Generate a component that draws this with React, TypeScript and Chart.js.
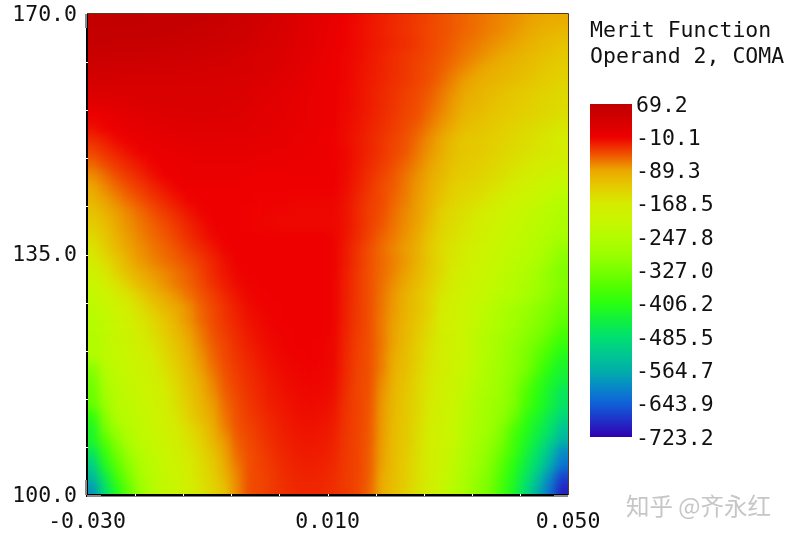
import React, { useEffect, useRef } from "react";
import { Chart, registerables } from "chart.js";

Chart.register(...registerables);

const MONO = '"DejaVu Sans Mono", monospace';
const X_MIN = -0.03;
const X_MAX = 0.05;
const Y_MIN = 100;
const Y_MAX = 170;
const xTicks = [-0.03, -0.022, -0.014, -0.006, 0.002, 0.01, 0.018, 0.026, 0.034, 0.042, 0.05];
const yTicks = [100, 107, 114, 121, 128, 135, 142, 149, 156, 163, 170];
const xLabels = [-0.03, 0.01, 0.05];
const yLabels = [100, 135, 170];
const legendValues = [69.2, -10.1, -89.3, -168.5, -247.8, -327.0, -406.2, -485.5, -564.7, -643.9, -723.2];
const titleLines = ["Merit Function", "Operand 2, COMA"];
const watermark = "知乎 @齐永红";
const colorStops = ["#c00000", "#d40000", "#ee0000", "#f05000", "#eba800", "#e4cc00", "#d4ec00", "#c8f600", "#b4fc00", "#9cff00", "#78ff00", "#50ff00", "#28ff10", "#10f040", "#00e070", "#00c890", "#00b0a8", "#0888c8", "#1060d8", "#2030c8", "#3000b0"];

const field: number[][] = [
[66,65,64,64,63,62,61,61,60,58,55,51,46,41,35,30,24,17,11,4,-3,-10,-15,-20,-25,-30,-34,-39,-44,-49,-54,-59,-64,-69,-74,-79,-84,-89,-92,-94],
[62,62,61,61,60,60,60,58,55,52,49,46,42,37,32,27,22,15,9,2,-5,-11,-16,-21,-26,-31,-35,-40,-45,-49,-54,-60,-65,-71,-76,-82,-89,-95,-101,-107],
[57,57,56,56,55,54,53,51,49,47,44,41,38,34,30,25,20,14,8,1,-6,-11,-15,-20,-24,-29,-33,-38,-45,-50,-57,-64,-70,-76,-82,-88,-96,-104,-111,-118],
[49,48,47,47,46,45,44,42,40,38,36,33,30,27,24,21,17,11,5,-1,-7,-12,-16,-21,-27,-32,-37,-41,-46,-52,-60,-68,-75,-83,-90,-98,-105,-112,-119,-126],
[39,38,38,37,37,36,35,34,33,32,30,29,27,25,23,20,15,10,4,-2,-8,-12,-17,-22,-27,-32,-37,-43,-48,-56,-66,-75,-85,-93,-99,-106,-111,-118,-124,-130],
[28,28,28,27,27,27,26,26,25,25,24,24,23,21,19,15,11,6,1,-4,-8,-12,-18,-23,-28,-33,-38,-43,-49,-60,-73,-85,-93,-99,-105,-111,-118,-124,-130,-136],
[20,19,20,21,22,22,22,22,22,22,22,21,20,18,15,12,8,4,-1,-5,-9,-13,-18,-24,-30,-35,-41,-46,-54,-67,-79,-92,-99,-108,-116,-122,-127,-133,-138,-144],
[6,10,13,15,17,19,20,20,20,20,20,19,17,15,12,9,5,1,-3,-6,-9,-13,-18,-24,-30,-36,-42,-48,-58,-71,-84,-97,-104,-113,-121,-125,-130,-136,-141,-147],
[-9,-4,1,5,9,12,14,16,17,18,17,16,14,12,9,6,3,0,-3,-6,-9,-14,-19,-25,-31,-38,-44,-49,-63,-76,-87,-105,-111,-120,-125,-130,-135,-140,-145,-151],
[-18,-10,-5,0,3,6,9,11,12,12,12,12,10,9,7,5,2,-1,-3,-6,-9,-15,-20,-27,-33,-40,-47,-56,-70,-83,-97,-113,-119,-125,-131,-137,-144,-150,-157,-163],
[-32,-24,-14,-8,-4,-1,2,4,6,7,7,7,6,5,4,2,0,-2,-4,-7,-10,-16,-22,-29,-36,-43,-50,-63,-77,-90,-109,-125,-123,-129,-135,-142,-149,-156,-163,-170],
[-44,-35,-26,-17,-10,-6,-3,0,1,2,2,2,2,1,0,-1,-2,-4,-6,-8,-10,-13,-21,-28,-36,-44,-52,-67,-81,-94,-115,-122,-126,-132,-139,-147,-153,-159,-165,-170],
[-60,-46,-37,-28,-20,-11,-8,-5,-3,-2,-2,-2,-3,-3,-4,-5,-6,-7,-8,-9,-10,-14,-22,-31,-39,-48,-59,-72,-86,-102,-119,-127,-131,-138,-146,-154,-162,-170,-178,-185],
[-78,-64,-48,-38,-29,-19,-10,-8,-6,-5,-5,-6,-6,-7,-8,-8,-9,-9,-9,-9,-9,-15,-24,-34,-43,-53,-66,-79,-92,-108,-125,-131,-136,-144,-153,-163,-174,-185,-196,-207],
[-90,-75,-62,-49,-39,-29,-20,-11,-9,-8,-8,-8,-8,-9,-9,-9,-10,-10,-10,-10,-10,-16,-26,-37,-47,-55,-68,-81,-95,-113,-131,-137,-143,-152,-162,-175,-189,-200,-213,-225],
[-103,-86,-74,-61,-49,-39,-29,-20,-11,-10,-10,-10,-10,-10,-11,-11,-11,-12,-12,-12,-12,-18,-29,-40,-46,-58,-71,-84,-100,-120,-136,-144,-152,-163,-177,-191,-203,-216,-229,-242],
[-118,-100,-84,-73,-61,-49,-39,-30,-20,-11,-10,-10,-10,-11,-11,-12,-12,-13,-13,-13,-13,-19,-30,-41,-48,-62,-75,-85,-105,-132,-144,-154,-165,-180,-193,-207,-218,-230,-242,-257],
[-128,-113,-89,-78,-67,-57,-47,-37,-27,-18,-10,-10,-10,-11,-12,-13,-14,-14,-14,-14,-14,-19,-30,-41,-51,-65,-77,-87,-112,-136,-148,-158,-172,-186,-199,-212,-224,-236,-247,-262],
[-143,-122,-98,-83,-72,-62,-53,-42,-32,-22,-13,-10,-10,-10,-10,-10,-10,-10,-10,-10,-11,-20,-31,-43,-57,-68,-80,-91,-119,-141,-152,-163,-178,-192,-208,-220,-231,-244,-258,-270],
[-158,-130,-108,-87,-77,-68,-59,-50,-39,-30,-21,-11,-10,-10,-10,-10,-10,-10,-10,-10,-11,-22,-36,-49,-62,-74,-85,-97,-125,-147,-160,-172,-189,-203,-216,-226,-238,-249,-273,-296],
[-166,-149,-125,-97,-82,-72,-64,-56,-47,-38,-28,-17,-10,-10,-10,-10,-10,-10,-10,-10,-11,-22,-36,-49,-60,-71,-82,-99,-122,-146,-162,-177,-191,-205,-220,-233,-245,-263,-287,-309],
[-190,-165,-135,-110,-94,-82,-74,-65,-55,-42,-30,-20,-12,-10,-10,-10,-10,-10,-10,-10,-11,-24,-38,-50,-61,-73,-86,-105,-128,-146,-169,-185,-201,-215,-228,-240,-252,-275,-299,-322],
[-205,-180,-157,-132,-106,-93,-78,-68,-58,-46,-34,-24,-15,-11,-10,-10,-10,-10,-10,-10,-11,-25,-38,-49,-63,-77,-92,-110,-129,-154,-174,-190,-205,-219,-234,-248,-266,-283,-300,-318],
[-228,-202,-177,-156,-132,-107,-93,-79,-66,-52,-41,-30,-20,-13,-11,-10,-10,-10,-10,-10,-11,-25,-38,-49,-65,-82,-99,-118,-138,-163,-182,-196,-211,-226,-242,-255,-270,-288,-307,-328],
[-232,-214,-192,-170,-150,-127,-105,-90,-77,-58,-46,-35,-25,-16,-12,-11,-10,-10,-10,-10,-11,-26,-39,-49,-66,-83,-100,-117,-136,-170,-186,-203,-220,-238,-258,-275,-290,-307,-322,-340],
[-246,-228,-206,-182,-159,-142,-120,-97,-79,-61,-47,-36,-27,-19,-14,-11,-10,-10,-10,-10,-11,-26,-39,-49,-68,-85,-102,-120,-141,-171,-187,-203,-224,-246,-263,-279,-296,-312,-330,-355],
[-251,-230,-211,-190,-172,-150,-130,-108,-87,-68,-50,-40,-30,-22,-16,-12,-11,-10,-10,-10,-12,-27,-40,-49,-68,-87,-107,-126,-149,-173,-189,-205,-229,-252,-270,-286,-304,-322,-345,-375],
[-255,-233,-215,-197,-180,-160,-139,-118,-95,-73,-55,-43,-33,-25,-18,-14,-11,-10,-10,-11,-13,-28,-41,-49,-67,-87,-109,-130,-154,-175,-191,-206,-236,-258,-277,-296,-315,-339,-367,-396],
[-258,-232,-218,-203,-186,-168,-146,-125,-102,-80,-59,-45,-36,-28,-21,-16,-12,-11,-10,-11,-13,-29,-42,-49,-70,-93,-113,-133,-157,-176,-193,-210,-236,-258,-279,-300,-322,-353,-385,-417],
[-310,-243,-226,-211,-194,-177,-154,-133,-110,-85,-65,-48,-39,-31,-24,-18,-14,-12,-11,-12,-14,-30,-43,-49,-70,-95,-114,-135,-158,-178,-195,-213,-240,-263,-283,-303,-327,-367,-408,-432],
[-330,-258,-234,-218,-202,-185,-163,-140,-115,-93,-72,-52,-41,-33,-26,-20,-16,-13,-12,-13,-15,-31,-44,-49,-75,-99,-119,-140,-162,-181,-197,-222,-246,-268,-288,-309,-345,-390,-421,-445],
[-340,-275,-241,-224,-208,-191,-173,-147,-122,-99,-78,-56,-44,-35,-28,-22,-18,-15,-13,-14,-17,-33,-44,-50,-79,-102,-121,-142,-164,-183,-200,-228,-254,-273,-289,-318,-366,-403,-436,-470],
[-348,-288,-243,-229,-215,-196,-179,-153,-128,-105,-84,-62,-47,-38,-30,-24,-20,-16,-15,-16,-19,-35,-43,-51,-81,-105,-123,-143,-166,-185,-205,-236,-263,-279,-295,-320,-372,-410,-440,-475],
[-400,-310,-255,-235,-220,-201,-183,-161,-135,-110,-89,-66,-49,-40,-33,-27,-22,-18,-17,-18,-21,-36,-43,-52,-82,-107,-123,-144,-168,-188,-210,-236,-261,-283,-300,-337,-395,-425,-462,-500],
[-425,-327,-282,-242,-226,-208,-189,-170,-147,-127,-96,-72,-51,-43,-36,-29,-24,-20,-19,-20,-24,-37,-43,-53,-83,-108,-124,-148,-171,-191,-214,-243,-268,-287,-315,-367,-408,-443,-476,-533],
[-430,-363,-307,-260,-232,-216,-197,-178,-156,-135,-105,-81,-56,-46,-38,-31,-26,-22,-21,-22,-26,-38,-43,-54,-84,-109,-125,-149,-175,-192,-212,-248,-272,-296,-327,-380,-420,-458,-505,-560],
[-470,-392,-330,-285,-244,-225,-205,-186,-163,-142,-117,-87,-61,-48,-41,-34,-28,-24,-23,-24,-28,-38,-43,-55,-85,-110,-127,-151,-178,-194,-222,-254,-280,-306,-343,-386,-435,-481,-538,-603],
[-515,-416,-355,-305,-256,-234,-212,-193,-170,-150,-128,-93,-67,-49,-42,-36,-30,-26,-25,-26,-30,-39,-43,-56,-86,-110,-130,-152,-174,-198,-228,-260,-288,-315,-357,-406,-451,-501,-565,-625],
[-550,-455,-380,-320,-272,-239,-218,-200,-175,-152,-133,-103,-74,-48,-44,-38,-32,-28,-27,-28,-32,-39,-44,-56,-91,-110,-130,-153,-177,-204,-236,-267,-296,-324,-371,-418,-468,-531,-599,-668],
[-590,-485,-412,-344,-288,-243,-221,-200,-179,-158,-137,-116,-75,-47,-44,-38,-33,-30,-29,-30,-33,-39,-44,-58,-93,-111,-133,-155,-178,-206,-242,-270,-302,-331,-378,-424,-490,-565,-625,-695],
];

const V_MAX = legendValues[0];
const V_MIN = legendValues[legendValues.length - 1];

function hexToRgb(h: string) {
  return [parseInt(h.slice(1, 3), 16), parseInt(h.slice(3, 5), 16), parseInt(h.slice(5, 7), 16)];
}
function colorOf(v: number) {
  const t = Math.min(1, Math.max(0, (V_MAX - v) / (V_MAX - V_MIN))) * (colorStops.length - 1);
  const i = Math.min(colorStops.length - 2, Math.floor(t));
  const a = hexToRgb(colorStops[i]);
  const b = hexToRgb(colorStops[i + 1]);
  const f = t - i;
  return `rgb(${a.map((c, k) => Math.round(c + (b[k] - c) * f)).join(",")})`;
}

const cells = field.flatMap((row, j) =>
  row.map((v, i) => ({
    x: X_MIN + ((i + 0.5) * (X_MAX - X_MIN)) / row.length,
    y: Y_MAX - ((j + 0.5) * (Y_MAX - Y_MIN)) / field.length,
    v,
  }))
);

// The reference surface is finely sampled: soften the cell edges after the library has drawn them.
const smoothPlugin = {
  id: "smooth",
  afterDatasetsDraw(chart: any) {
    const { ctx, chartArea: a, canvas } = chart;
    const p = 20;
    const w = Math.round(a.right - a.left);
    const h = Math.round(a.bottom - a.top);
    const l = Math.round(a.left);
    const t = Math.round(a.top);
    const off = document.createElement("canvas");
    off.width = w + 2 * p;
    off.height = h + 2 * p;
    const o = off.getContext("2d") as CanvasRenderingContext2D;
    o.drawImage(canvas, l, t, 1, h, 0, p, p, h);
    o.drawImage(canvas, l + w - 1, t, 1, h, p + w, p, p, h);
    o.drawImage(canvas, l, t, w, 1, p, 0, w, p);
    o.drawImage(canvas, l, t + h - 1, w, 1, p, p + h, w, p);
    o.drawImage(canvas, l, t, 1, 1, 0, 0, p, p);
    o.drawImage(canvas, l + w - 1, t, 1, 1, p + w, 0, p, p);
    o.drawImage(canvas, l, t + h - 1, 1, 1, 0, p + h, p, p);
    o.drawImage(canvas, l + w - 1, t + h - 1, 1, 1, p + w, p + h, p, p);
    o.drawImage(canvas, l, t, w, h, p, p, w, h);
    ctx.save();
    ctx.beginPath();
    ctx.rect(l, t, w, h);
    ctx.clip();
    ctx.filter = "blur(5px)";
    ctx.drawImage(off, l - p, t - p);
    ctx.restore();
  },
};

const framePlugin = {
  id: "frame",
  afterDatasetsDraw(chart: any) {
    const { ctx, chartArea: a, scales } = chart;
    ctx.save();
    ctx.strokeStyle = "#5a3a20";
    ctx.lineWidth = 1;
    ctx.beginPath();
    ctx.moveTo(a.left, a.top - 0.5);
    ctx.lineTo(a.right + 0.5, a.top - 0.5);
    ctx.lineTo(a.right + 0.5, a.bottom);
    ctx.stroke();
    ctx.fillStyle = "#000";
    ctx.fillRect(a.left - 1, a.top, 2, a.bottom - a.top + 2);
    ctx.fillRect(a.left - 1, a.bottom - 1, a.right - a.left + 1, 2.5);
    ctx.fillStyle = "#8a8a8a";
    ctx.fillRect(a.left - 2, a.top, 2, 14);
    ctx.fillRect(a.left - 2, a.bottom - 15, 2, 15);
    ctx.fillRect(a.left, a.bottom, 14, 2);
    ctx.fillRect(a.right - 14, a.bottom, 14, 2);
    ctx.fillStyle = "#fff";
    scales.y.ticks.forEach((t: any) => {
      const p = Math.round(scales.y.getPixelForValue(t.value));
      if (p > a.top + 2 && p < a.bottom - 2) ctx.fillRect(a.left - 1, p, 2, 1);
    });
    scales.x.ticks.forEach((t: any) => {
      const p = Math.round(scales.x.getPixelForValue(t.value));
      if (p > a.left + 2 && p < a.right - 2) ctx.fillRect(p, a.bottom - 1, 1, 2);
    });
    ctx.restore();
  },
};

export default function App() {
  const mainRef = useRef<HTMLCanvasElement>(null);
  const barRef = useRef<HTMLCanvasElement>(null);

  useEffect(() => {
    const font = { family: MONO, size: 21.5 };
    const main = new Chart(mainRef.current as HTMLCanvasElement, {
      type: "scatter",
      data: {
        datasets: [
          {
            data: cells as any,
            pointStyle: "rect",
            pointRadius: 6.3 * Math.SQRT2,
            pointBorderWidth: 0,
            pointBackgroundColor: (c: any) => colorOf(c.raw ? c.raw.v : 0),
          } as any,
        ],
      },
      options: {
        responsive: false,
        animation: false,
        events: [],
        layout: { padding: { top: 14, right: 225, left: 0, bottom: 0 } },
        plugins: { legend: { display: false }, tooltip: { enabled: false } },
        scales: {
          x: {
            type: "linear",
            min: X_MIN,
            max: X_MAX,
            grid: { display: false, drawTicks: false },
            border: { display: false },
            afterBuildTicks: (s: any) => {
              s.ticks = xTicks.map((value) => ({ value }));
            },
            afterFit: (s: any) => {
              s.height = 44;
              s.paddingLeft = 0;
              s.paddingRight = 0;
            },
            ticks: {
              autoSkip: false,
              maxRotation: 0,
              color: "#111",
              font,
              padding: 15,
              callback: (v: any) =>
                xLabels.some((l) => Math.abs(l - v) < 1e-6) ? Number(v).toFixed(3) : "",
            },
          },
          y: {
            type: "linear",
            min: Y_MIN,
            max: Y_MAX,
            grid: { display: false, drawTicks: false },
            border: { display: false },
            afterBuildTicks: (s: any) => {
              s.ticks = yTicks.map((value) => ({ value }));
            },
            afterFit: (s: any) => {
              s.width = 87;
              s.paddingTop = 0;
              s.paddingBottom = 0;
            },
            ticks: {
              autoSkip: false,
              color: "#111",
              font,
              padding: 10,
              labelOffset: 1,
              callback: (v: any) => (yLabels.includes(Number(v)) ? Number(v).toFixed(1) : ""),
            },
          },
        },
      } as any,
      plugins: [smoothPlugin, framePlugin],
    });

    const bar = new Chart(barRef.current as HTMLCanvasElement, {
      type: "bar",
      data: {
        labels: [""],
        datasets: [
          {
            data: [[V_MIN, V_MAX]] as any,
            barPercentage: 1,
            categoryPercentage: 1,
            borderWidth: 0,
            backgroundColor: (c: any) => {
              const a = c.chart.chartArea;
              if (!a) return colorStops[0];
              const g = c.chart.ctx.createLinearGradient(0, a.top, 0, a.bottom);
              colorStops.forEach((s, i) => g.addColorStop(i / (colorStops.length - 1), s));
              return g;
            },
          },
        ],
      },
      options: {
        responsive: false,
        animation: false,
        events: [],
        layout: { padding: { top: 0, left: 2, right: 0, bottom: 102 } },
        plugins: {
          legend: { display: false },
          tooltip: { enabled: false },
          title: {
            display: true,
            align: "start",
            text: titleLines,
            color: "#111",
            font: { family: MONO, size: 21.5, weight: "normal", lineHeight: "26px" },
            padding: { top: 18, bottom: 34 },
          },
        },
        scales: {
          x: { display: false, grid: { display: false } },
          y: {
            position: "right",
            min: V_MIN,
            max: V_MAX,
            grid: { display: false, drawTicks: false },
            border: { display: false },
            afterBuildTicks: (s: any) => {
              s.ticks = legendValues.map((value) => ({ value }));
            },
            afterFit: (s: any) => {
              s.width = 161;
            },
            ticks: {
              autoSkip: false,
              color: "#111",
              font,
              padding: 4,
              labelOffset: 2,
              callback: (v: any) => Number(v).toFixed(1),
            },
          },
        },
      } as any,
    });

    return () => {
      main.destroy();
      bar.destroy();
    };
  }, []);

  return (
    <div style={{ position: "absolute", left: 0, top: 0, width: 793, height: 539, background: "#fff", overflow: "hidden" }}>
      <canvas ref={mainRef} width={793} height={539} style={{ position: "absolute", left: 0, top: 0, display: "block" }} />
      <canvas ref={barRef} width={205} height={539} style={{ position: "absolute", left: 588, top: 0, display: "block" }} />
      <div
        style={{
          position: "absolute",
          left: 626,
          top: 490,
          fontFamily: '"Noto Sans CJK SC", sans-serif',
          fontSize: 23.5,
          lineHeight: "30px",
          color: "#c6c6c6",
          whiteSpace: "pre",
        }}
      >
        {watermark}
      </div>
    </div>
  );
}
